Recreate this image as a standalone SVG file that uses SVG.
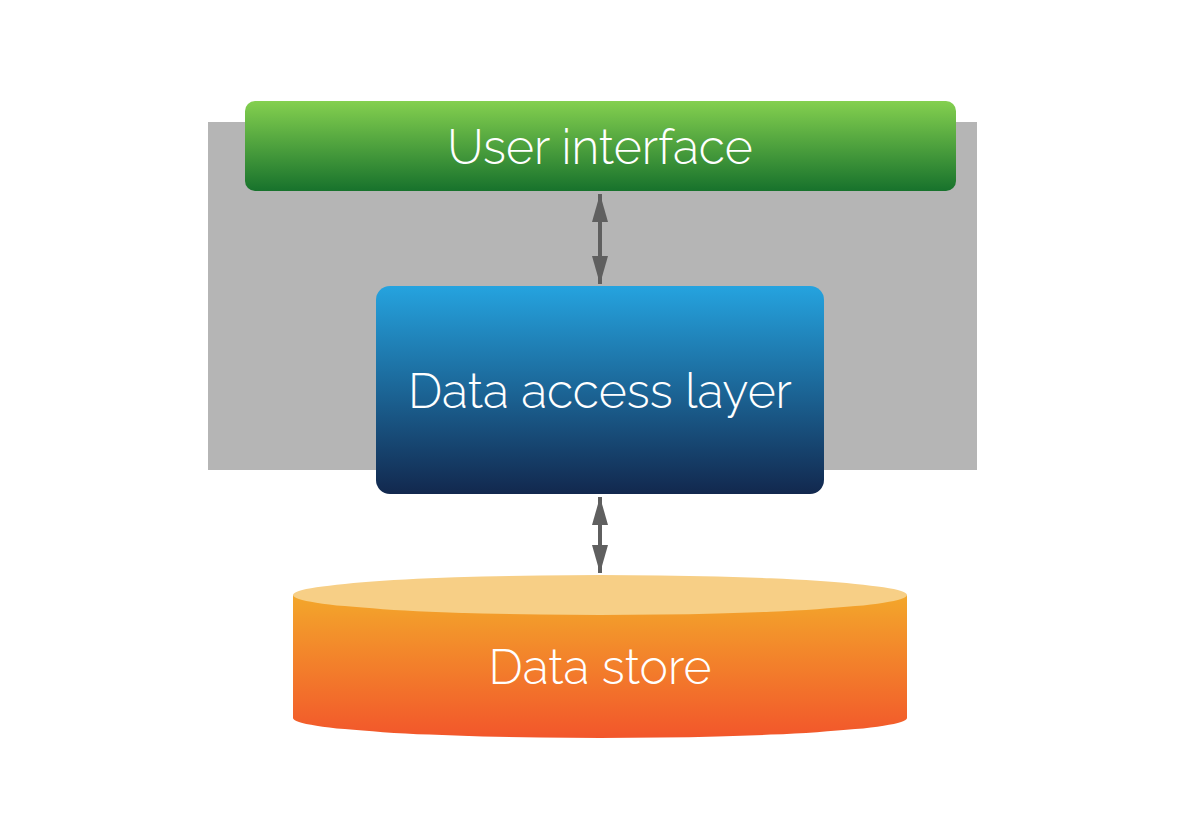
<svg xmlns="http://www.w3.org/2000/svg" width="1200" height="828" viewBox="0 0 1200 828">
<defs>
<linearGradient id="g" x1="0" y1="0" x2="0" y2="1"><stop offset="0" stop-color="#84d04f"/><stop offset="1" stop-color="#17722c"/></linearGradient>
<linearGradient id="b" x1="0" y1="0" x2="0" y2="1"><stop offset="0" stop-color="#25a3df"/><stop offset="1" stop-color="#12284e"/></linearGradient>
<linearGradient id="o" x1="0" y1="0" x2="0" y2="1"><stop offset="0" stop-color="#f3a72b"/><stop offset="1" stop-color="#f2562b"/></linearGradient>
<marker id="ah" viewBox="0 0 20 10" refX="20" refY="5" markerWidth="7" markerHeight="4" preserveAspectRatio="none" orient="auto-start-reverse" markerUnits="strokeWidth"><path d="M0,0 L20,5 L0,10 z" fill="#5f5f5f"/></marker>
<style>text{font-family:Raleway,Lato,"Open Sans",sans-serif;font-weight:300;fill:#fff;text-anchor:middle}</style>
</defs>
<rect width="1200" height="828" fill="#fff"/>
<rect x="208" y="122" width="769" height="348" fill="#b5b5b5"/>
<g id="connectors" stroke="#5f5f5f" stroke-width="4">
<line x1="600" y1="194" x2="600" y2="284" marker-start="url(#ah)" marker-end="url(#ah)"/>
<line x1="600" y1="497" x2="600" y2="573" marker-start="url(#ah)" marker-end="url(#ah)"/>
</g>
<g id="ui"><rect x="245" y="101" width="711" height="90" rx="10" fill="url(#g)"/><text x="600" y="164" font-size="48">User interface</text></g>
<g id="dal"><rect x="376" y="286" width="448" height="208" rx="14" fill="url(#b)"/><text x="600" y="408" font-size="48">Data access layer</text></g>
<g id="store">
<path d="M293,595 L293,718 A307,20 0 0 0 907,718 L907,595 Z" fill="url(#o)"/>
<ellipse cx="600" cy="595" rx="307" ry="20" fill="#f7cf86"/>
<text x="600" y="684" font-size="48">Data store</text>
</g>
</svg>
